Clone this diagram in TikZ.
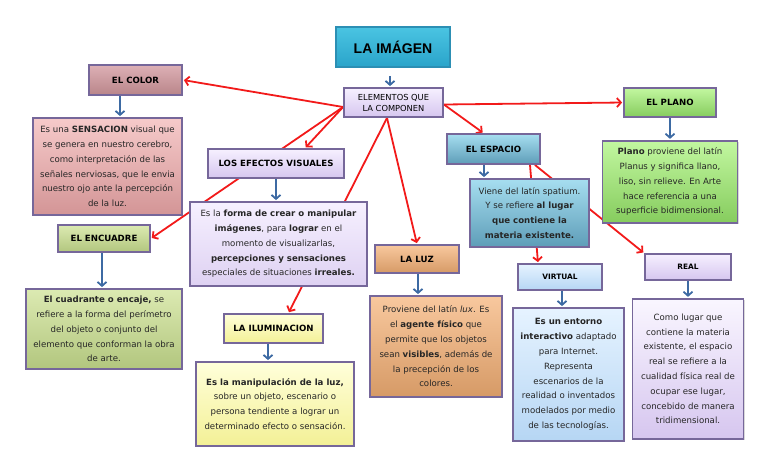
\documentclass[tikz,border=0pt]{standalone}
\usepackage{fontspec}
\setmainfont{DejaVu Sans}
\newfontfamily\titlefont{Liberation Sans}
\usetikzlibrary{positioning,arrows.meta,backgrounds,shadows}
\definecolor{mapRed}{HTML}{F21A1A}
\definecolor{mapBlue}{HTML}{3D6AA3}
\definecolor{mapBorder}{HTML}{76679A}
\definecolor{imgLine}{HTML}{2C8FB4}
\definecolor{imgTop}{HTML}{4AC4E2}
\definecolor{imgBot}{HTML}{2AA4CA}
\definecolor{lilacTop}{HTML}{F6F0FF}
\definecolor{lilacBot}{HTML}{D6C6EF}
\definecolor{roseTop}{HTML}{DDB0B6}
\definecolor{roseBot}{HTML}{B98589}
\definecolor{pinkTop}{HTML}{F6CACA}
\definecolor{pinkBot}{HTML}{D39596}
\definecolor{oliveTop}{HTML}{DCEAB2}
\definecolor{oliveBot}{HTML}{B2C67E}
\definecolor{yellowTop}{HTML}{FFFFDA}
\definecolor{yellowBot}{HTML}{F3F096}
\definecolor{tanTop}{HTML}{F8C89E}
\definecolor{tanBot}{HTML}{D69A66}
\definecolor{tealTop}{HTML}{A6DEF0}
\definecolor{tealBot}{HTML}{5E9DB8}
\definecolor{greenTop}{HTML}{C2F7A0}
\definecolor{greenBot}{HTML}{86CC5E}
\definecolor{skyTop}{HTML}{E6F3FF}
\definecolor{skyBot}{HTML}{B6D6F4}

\begin{document}
\begin{tikzpicture}[
    x=1pt,y=-1pt,
    link/.style={-{Straight Barb[length=4pt,width=9pt]},line width=1.8pt,mapRed,shorten >=1pt},
    linkdown/.style={-{Straight Barb[length=4pt,width=9pt]},line width=1.8pt,mapBlue,shorten >=1pt},
    grad/.style 2 args={top color=#1,bottom color=#2},
    box/.style={rectangle,draw=mapBorder,line width=1.8pt,inner sep=2pt,align=center,
        drop shadow={opacity=0.3,shadow xshift=1.2pt,shadow yshift=-1.2pt}},
    head/.style={box,font=\fontsize{8.6}{10}\selectfont\bfseries},
    smallhead/.style={box,font=\fontsize{7.4}{9}\selectfont\bfseries},
    desc/.style={box,text=black!85,font=\fontsize{8.6}{14.8}\selectfont},
]
\useasboundingbox (0,0) rectangle (768,466);

% === TOP ===
\node[box,draw=imgLine,grad={imgTop}{imgBot},minimum width=114pt,minimum height=40pt,
    font=\titlefont\fontsize{14}{16}\selectfont\bfseries] (imagen) at (393,47) {LA IMÁGEN};
\node[box,grad={lilacTop}{lilacBot},minimum width=99pt,minimum height=29pt,
    font=\fontsize{8.3}{11}\selectfont] (elem) at (393.5,102.5) {ELEMENTOS QUE\\LA COMPONEN};
\draw[linkdown,shorten <=8pt] ([xshift=-3pt]imagen.south) -- ([xshift=-3pt]imagen.south |- elem.north);

% === LEFT BRANCHES ===
\node[head,grad={roseTop}{roseBot},minimum width=93pt,minimum height=30pt] (color) at (135.5,80) {EL COLOR};
\node[desc,grad={pinkTop}{pinkBot},minimum width=149pt,minimum height=97pt] (colorTxt) at (107.5,166.5)
    {Es una \textbf{SENSACION} visual que\\se genera en nuestro cerebro,\\como interpretación de las\\señales nerviosas, que le envia\\nuestro ojo ante la percepción\\de la luz.};
\draw[linkdown] ([xshift=-15.5pt]color.south) -- ([xshift=-15.5pt]color.south |- colorTxt.north);

\node[head,grad={lilacTop}{lilacBot},minimum width=136pt,minimum height=29pt] (efectos) at (276,163.5) {LOS EFECTOS VISUALES};
\node[desc,grad={lilacTop}{lilacBot!80},minimum width=177pt,minimum height=84pt] (efectosTxt) at (278.5,244)
    {Es la \textbf{forma de crear o manipular}\\\textbf{imágenes}, para \textbf{lograr} en el\\momento de visualizarlas,\\\textbf{percepciones y sensaciones}\\especiales de situaciones \textbf{irreales.}};
\draw[linkdown] (efectos.south) -- (efectos.south |- efectosTxt.north);

\node[head,grad={oliveTop}{oliveBot},minimum width=92pt,minimum height=27pt] (encuadre) at (104,238.5) {EL ENCUADRE};
\node[desc,grad={oliveTop}{oliveBot},minimum width=156pt,minimum height=80pt] (encuadreTxt) at (104,329)
    {\textbf{El cuadrante o encaje,} se\\refiere a la forma del perímetro\\del objeto o conjunto del\\elemento que conforman la obra\\de arte.};
\draw[linkdown] ([xshift=-2pt]encuadre.south) -- ([xshift=-2pt]encuadre.south |- encuadreTxt.north);

\node[head,grad={yellowTop}{yellowBot},minimum width=99pt,minimum height=29pt] (ilum) at (273.5,328.5) {LA ILUMINACION};
\node[desc,grad={yellowTop}{yellowBot},minimum width=158pt,minimum height=84pt] (ilumTxt) at (275,404)
    {\textbf{Es la manipulación de la luz,}\\sobre un objeto, escenario o\\persona tendiente a lograr un\\determinado efecto o sensación.};
\draw[linkdown] ([xshift=-5.5pt]ilum.south) -- ([xshift=-5.5pt]ilum.south |- ilumTxt.north);

\node[head,grad={tanTop}{tanBot},minimum width=84pt,minimum height=28pt] (luz) at (417,259) {LA LUZ};
\node[desc,grad={tanTop}{tanBot},minimum width=132pt,minimum height=101pt] (luzTxt) at (436,346.5)
    {Proviene del latín \textit{lux}. Es\\el \textbf{agente físico} que\\permite que los objetos\\sean \textbf{visibles}, además de\\la precepción de los\\colores.};
\draw[linkdown] ([xshift=1pt]luz.south) -- ([xshift=1pt]luz.south |- luzTxt.north);

% === RIGHT BRANCHES ===
\node[head,grad={tealTop}{tealBot},minimum width=93pt,minimum height=30pt] (espacio) at (493.5,149) {EL ESPACIO};
\node[desc,grad={tealTop}{tealBot},minimum width=119pt,minimum height=68pt] (espacioTxt) at (529.5,213)
    {Viene del latín spatium.\\Y se refiere \textbf{al lugar}\\\textbf{que contiene la}\\\textbf{materia existente.}};
\draw[linkdown] ([xshift=-9.5pt]espacio.south) -- ([xshift=-9.5pt]espacio.south |- espacioTxt.north);

\node[head,grad={greenTop}{greenBot},minimum width=92pt,minimum height=29pt] (plano) at (670,102.5) {EL PLANO};
\node[desc,grad={greenTop}{greenBot},minimum width=135pt,minimum height=82pt,below=22pt of plano] (planoTxt)
    {\textbf{Plano} proviene del latín\\Planus y significa llano,\\liso, sin relieve. En Arte\\hace referencia a una\\superficie bidimensional.};
\draw[linkdown] (plano) -- (planoTxt);

\node[smallhead,grad={skyTop}{skyBot},minimum width=84pt,minimum height=26pt] (virtual) at (560,277) {VIRTUAL};
\node[desc,grad={skyTop}{skyBot},minimum width=111pt,minimum height=133pt] (virtualTxt) at (568.5,374.5)
    {\textbf{Es un entorno}\\\textbf{interactivo} adaptado\\para Internet.\\Representa\\escenarios de la\\realidad o inventados\\modelados por medio\\de las tecnologías.};
\draw[linkdown] ([xshift=2pt]virtual.south) -- ([xshift=2pt]virtual.south |- virtualTxt.north);

\node[smallhead,grad={lilacTop}{lilacBot},minimum width=86pt,minimum height=26pt] (real) at (688,267) {REAL};
\node[desc,grad={lilacTop!60!white}{lilacBot},minimum width=111pt,minimum height=140pt,below=17pt of real] (realTxt)
    {Como lugar que\\contiene la materia\\existente, el espacio\\real se refiere a la\\cualidad física real de\\ocupar ese lugar,\\concebido de manera\\tridimensional.};
\draw[linkdown] (real) -- (realTxt);

% === RED CONNECTORS (behind the boxes) ===
\begin{scope}[on background layer]
    \draw[link] ([yshift=-4.5pt]elem.west) -- (color.east);
    \draw[link] ([yshift=-4.5pt]elem.west) -- ([xshift=29pt]efectos.north);
    \draw[link] ([yshift=-4.5pt]elem.west) -- (encuadre.east);
    \draw[link] ([xshift=-6.5pt]elem.south) -- ([xshift=15pt]ilum.north);
    \draw[link] ([xshift=-6.5pt]elem.south) -- (luz.north);
    \draw[link] ([yshift=-2pt]elem.east) -- (plano.west);
    \draw[link] ([yshift=-2pt]elem.east) -- ([xshift=-10pt]espacio.north);
    \draw[link] ([xshift=36.5pt]espacio.south) -- ([xshift=-22pt]virtual.north);
    \draw[link] ([xshift=-6pt]espacio.south east) -- (real.north west);
\end{scope}

\end{tikzpicture}
\end{document}
